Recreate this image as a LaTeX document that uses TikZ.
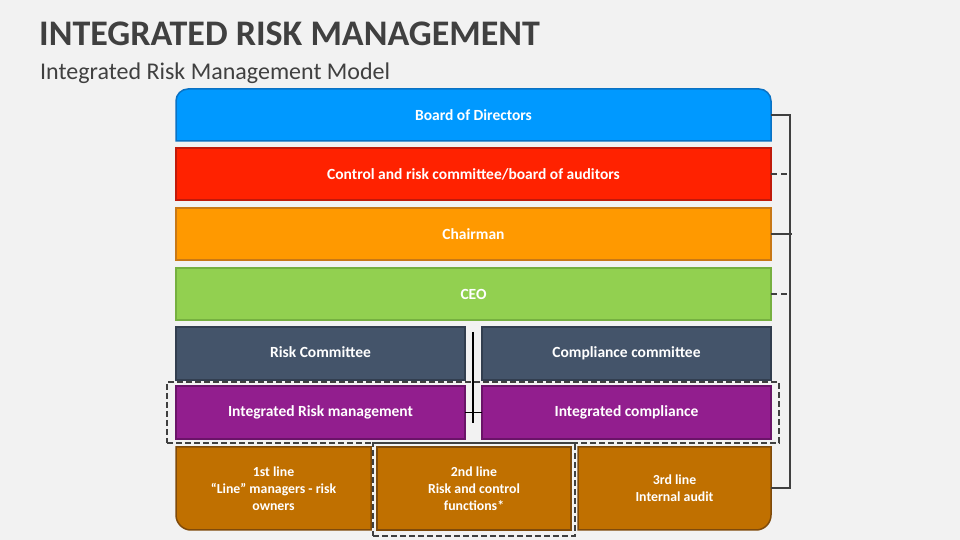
\documentclass[tikz,border=0pt]{standalone}
\usepackage{fontspec}
\setmainfont{Carlito}
\usetikzlibrary{calc,backgrounds,fit}
\definecolor{bgc}{HTML}{F2F2F2}
\definecolor{titlec}{HTML}{404040}
\definecolor{bluef}{HTML}{0099FF}
\definecolor{blued}{HTML}{0A72C4}
\definecolor{redf}{HTML}{FF2200}
\definecolor{redd}{HTML}{C01A0A}
\definecolor{orf}{HTML}{FF9900}
\definecolor{ord}{HTML}{C87816}
\definecolor{grf}{HTML}{92D050}
\definecolor{grd}{HTML}{76B040}
\definecolor{slf}{HTML}{44546A}
\definecolor{sld}{HTML}{323E4F}
\definecolor{puf}{HTML}{921E8E}
\definecolor{pud}{HTML}{6A1468}
\definecolor{brf}{HTML}{C07000}
\definecolor{brd}{HTML}{7F4A0A}
\definecolor{linec}{HTML}{404040}
\tikzset{
  boxtxt/.style={inner sep=0pt, outer sep=0pt, text=white, align=center,
    font=\bfseries\fontsize{15.5}{18}\selectfont},
  colbox/.style 2 args={boxtxt, fill=#1, draw=#2, line width=1.5pt},
  botbox/.style={boxtxt, minimum width=194pt, minimum height=83pt,
    font=\bfseries\fontsize{13.8}{17}\selectfont},
  brk/.style={draw=linec, line width=2pt},
  brkdash/.style={draw=linec, line width=2pt, dash pattern=on 6pt off 4pt},
  dbox/.style={draw=linec, line width=1.5pt, dash pattern=on 6pt off 3pt},
}
\begin{document}
\begin{tikzpicture}[x=1pt,y=1pt]
\useasboundingbox (0,0) rectangle (960,540);
\begin{scope}[on background layer]
  \fill[bgc] (0,0) rectangle (960,540);
\end{scope}

% titles
\node[anchor=base west, inner sep=0pt, text=titlec,
      font=\bfseries\fontsize{36}{42}\selectfont] (title) at (39,494) {INTEGRATED RISK MANAGEMENT};
\node[anchor=base west, inner sep=0pt, text=titlec,
      font=\fontsize{24}{28}\selectfont] (subtitle) at (40,460) {Integrated Risk Management Model};

% top stack
\node[boxtxt, minimum width=595pt, minimum height=52pt] (board) at (473.5,425) {Board of Directors};
\node[colbox={redf}{redd}, minimum width=595pt, minimum height=52pt] (ctrl) at (473.5,366) {Control and risk committee/board of auditors};
\node[colbox={orf}{ord}, minimum width=595pt, minimum height=52pt] (chair) at (473.5,306) {Chairman};
\node[colbox={grf}{grd}, minimum width=595pt, minimum height=52pt] (ceo) at (473.5,246) {CEO};

% committees
\node[colbox={slf}{sld}, minimum width=289pt, minimum height=53pt] (riskc) at (320.5,186.5) {\raisebox{2pt}{Risk Committee}};
\node[colbox={slf}{sld}, minimum width=289pt, minimum height=53pt] (compc) at (626.5,186.5) {Compliance committee};
\node[colbox={puf}{pud}, minimum width=289pt, minimum height=53pt] (irm) at (320.5,127.5) {Integrated Risk management};
\node[colbox={puf}{pud}, minimum width=289pt, minimum height=53pt] (icomp) at (626.5,127.5) {Integrated compliance};

% lines of defence
\node[botbox, minimum width=195pt] (first) at (273.5,51.5) {1st line\\``Line'' managers - risk\\owners};
\node[colbox={brf}{brd}, botbox] (second) at (474,51.5) {2nd line\\Risk and control\\functions*};
\node[botbox, minimum width=193pt] (third) at (674.5,51.5) {3rd line\\Internal audit};

\begin{scope}[on background layer]
  \filldraw[fill=bluef, draw=blued, line width=1.5pt]
    (board.south west) -- ($(board.north west)+(0,-12)$)
    arc[start angle=180, end angle=90, radius=12pt]
    -- ($(board.north east)+(-12,0)$)
    arc[start angle=90, end angle=0, radius=12pt]
    -- (board.south east) -- cycle;
  \filldraw[fill=brf, draw=brd, line width=1.5pt]
    (first.north west) -- ($(first.south west)+(0,15)$)
    arc[start angle=180, end angle=270, radius=15pt]
    -- (first.south east) -- (first.north east) -- cycle;
  \filldraw[fill=brf, draw=brd, line width=1.5pt]
    (third.north west) -- (third.south west)
    -- ($(third.south east)+(-15,0)$)
    arc[start angle=270, end angle=360, radius=15pt]
    -- (third.north east) -- cycle;
\end{scope}

% dashed groupings
\node[dbox, inner sep=0pt, fit={(167,97) (779,158)}] (grpint) {};
\node[dbox, inner sep=0pt, fit={(373,4) (575,97)}] (grpsec) {};

% divider between committee columns
\coordinate (dvt) at (473,208);
\coordinate (dvb) at (473,117);
\draw[black, line width=1.3pt] (dvt) -- (dvb);
\draw[black, line width=1.3pt] (irm.east) -- (icomp.west);

% right bracket
\coordinate (bb) at (790,51.5);
\draw[brk] (board.east) -| (bb) -- (third.east);
\draw[brk] (chair.east) -- ($(chair.east -| bb)+(2,0)$);
\draw[brkdash] (ctrl.east) -- ($(ctrl.east -| bb)+(-2,0)$);
\draw[brkdash] (ceo.east) -- ($(ceo.east -| bb)+(-2,0)$);
\end{tikzpicture}
\end{document}
